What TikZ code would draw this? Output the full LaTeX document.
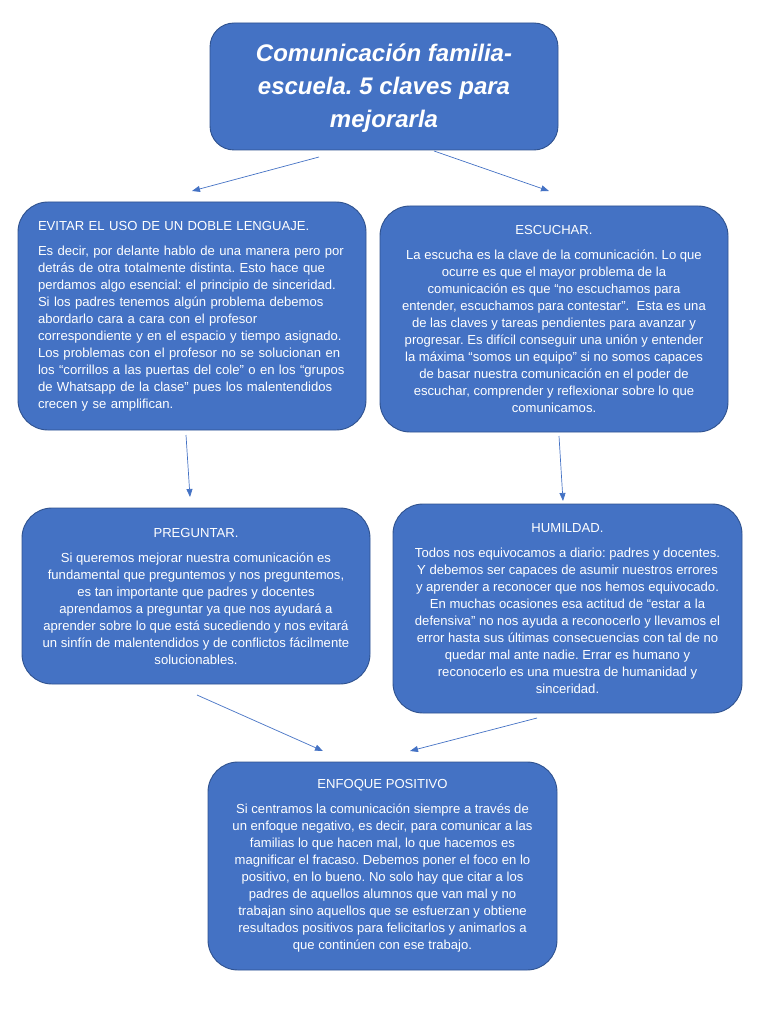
\documentclass[tikz,border=0pt]{standalone}
\usepackage{fontspec}
\setmainfont{Liberation Sans}
\usetikzlibrary{positioning,arrows.meta}
\frenchspacing
\definecolor{boxblue}{HTML}{4472C4}
\definecolor{boxedge}{HTML}{2F528F}
\tikzset{
  keybox/.style={draw=boxedge, fill=boxblue, line width=0.9pt, rounded corners=30pt, text=white, inner sep=0pt, minimum width=348pt, font=\fontsize{13.1}{17}\selectfont},
  titlebox/.style={draw=boxedge, fill=boxblue, line width=0.9pt, rounded corners=24pt, text=white, inner sep=0pt, minimum width=348pt, minimum height=127pt, align=center, font=\fontsize{24}{33}\selectfont\bfseries\itshape},
  linkarrow/.style={-{Triangle[length=8pt, width=6pt]}, draw=boxblue, line width=0.7pt}
}

\begin{document}
\begin{tikzpicture}[x=1pt, y=-1pt]
  \useasboundingbox (0,0) rectangle (768,1024);
  \node[titlebox] (title) at (384,86.5) {\\[-13pt]Comunicación familia-\\escuela. 5 claves para\\mejorarla};

  \node[keybox, minimum height=228pt, align=left, text width=308pt] (doble) at (192,316) {EVITAR EL USO DE UN DOBLE LENGUAJE.\\[8pt]
    Es decir, por delante hablo de una manera pero por\\
    detrás de otra totalmente distinta. Esto hace que\\
    perdamos algo esencial: el principio de sinceridad.\\
    Si los padres tenemos algún problema debemos\\
    abordarlo cara a cara con el profesor\\
    correspondiente y en el espacio y tiempo asignado.\\
    Los problemas con el profesor no se solucionan en\\
    los “corrillos a las puertas del cole” o en los “grupos\\
    de Whatsapp de la clase” pues los malentendidos\\
    crecen y se amplifican.};

  \node[keybox, minimum height=226pt, align=center] (escuchar) at (554,319) {ESCUCHAR.\\[8pt]
    La escucha es la clave de la comunicación. Lo que\\
    ocurre es que el mayor problema de la\\
    comunicación es que “no escuchamos para\\
    entender, escuchamos para contestar”.~ Esta es una\\
    de las claves y tareas pendientes para avanzar y\\
    progresar. Es difícil conseguir una unión y entender\\
    la máxima “somos un equipo” si no somos capaces\\
    de basar nuestra comunicación en el poder de\\
    escuchar, comprender y reflexionar sobre lo que\\
    comunicamos.};

  \node[keybox, minimum height=176pt, align=center] (preguntar) at (196,596) {PREGUNTAR.\\[8pt]
    Si queremos mejorar nuestra comunicación es\\
    fundamental que preguntemos y nos preguntemos,\\
    es tan importante que padres y docentes\\
    aprendamos a preguntar ya que nos ayudará a\\
    aprender sobre lo que está sucediendo y nos evitará\\
    un sinfín de malentendidos y de conflictos fácilmente\\
    solucionables.};

  \node[keybox, minimum width=349pt, minimum height=209pt, align=center] (humildad) at (567.5,608.5) {HUMILDAD.\\[8pt]
    Todos nos equivocamos a diario: padres y docentes.\\
    Y debemos ser capaces de asumir nuestros errores\\
    y aprender a reconocer que nos hemos equivocado.\\
    En muchas ocasiones esa actitud de “estar a la\\
    defensiva” no nos ayuda a reconocerlo y llevamos el\\
    error hasta sus últimas consecuencias con tal de no\\
    quedar mal ante nadie. Errar es humano y\\
    reconocerlo es una muestra de humanidad y\\
    sinceridad.};

  \node[keybox, minimum width=349pt, minimum height=208pt, align=center] (enfoque) at (382.5,866) {ENFOQUE POSITIVO\\[8pt]
    Si centramos la comunicación siempre a través de\\
    un enfoque negativo, es decir, para comunicar a las\\
    familias lo que hacen mal, lo que hacemos es\\
    magnificar el fracaso. Debemos poner el foco en lo\\
    positivo, en lo bueno. No solo hay que citar a los\\
    padres de aquellos alumnos que van mal y no\\
    trabajan sino aquellos que se esfuerzan y obtiene\\
    resultados positivos para felicitarlos y animarlos a\\
    que continúen con ese trabajo.};

  % arrow ends, free of the boxes
  \coordinate (t1) at (319,157);  \coordinate (d1) at (192,191);
  \coordinate (t2) at (434,151);  \coordinate (e1) at (549,191);
  \coordinate (d2) at (186,435);  \coordinate (p1) at (190,497);
  \coordinate (e2) at (559,436);  \coordinate (h1) at (563,501);
  \coordinate (p2) at (197,695);  \coordinate (f1) at (323,751);
  \coordinate (h2) at (537,718);  \coordinate (f2) at (410,751);
  \draw[linkarrow] (t1) -- (d1);
  \draw[linkarrow] (t2) -- (e1);
  \draw[linkarrow] (d2) -- (p1);
  \draw[linkarrow] (e2) -- (h1);
  \draw[linkarrow] (p2) -- (f1);
  \draw[linkarrow] (h2) -- (f2);
\end{tikzpicture}
\end{document}
